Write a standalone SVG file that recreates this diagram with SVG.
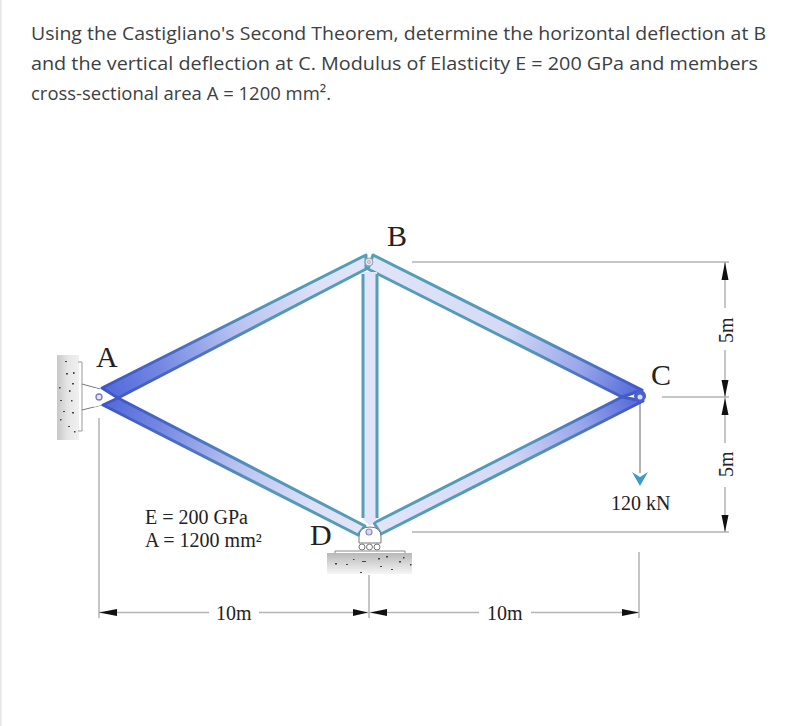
<svg xmlns="http://www.w3.org/2000/svg" width="794" height="726" viewBox="0 0 794 726">
<style>
.q{font-family:"Open Sans","Liberation Sans",sans-serif;font-size:19px;fill:#3c4043}
.t{font-family:"Liberation Serif",serif;fill:#222}
.l{font-size:30px}
.d{font-size:20px}
.dim{stroke:#b4b4b4;stroke-width:1.5;fill:none}
.sp{fill:#444}
.m{stroke-width:3;stroke-linejoin:round}
</style>
<defs>
<linearGradient id="ab" gradientUnits="userSpaceOnUse" x1="100" y1="395" x2="370" y2="260"><stop offset="0" stop-color="#4f66d8"/><stop offset=".22" stop-color="#7488e2"/><stop offset=".5" stop-color="#b8c2f0"/><stop offset=".8" stop-color="#dde1f8"/><stop offset="1" stop-color="#e2e5f9"/></linearGradient>
<linearGradient id="abE" gradientUnits="userSpaceOnUse" x1="100" y1="395" x2="370" y2="260"><stop offset="0" stop-color="#3f55c8"/><stop offset=".3" stop-color="#4a6cc4"/><stop offset=".6" stop-color="#5596b8"/><stop offset="1" stop-color="#549fb8"/></linearGradient>
<linearGradient id="ad" gradientUnits="userSpaceOnUse" x1="100" y1="397" x2="370" y2="530"><stop offset="0" stop-color="#4f66d8"/><stop offset=".22" stop-color="#7488e2"/><stop offset=".5" stop-color="#b8c2f0"/><stop offset=".8" stop-color="#dde1f8"/><stop offset="1" stop-color="#e2e5f9"/></linearGradient>
<linearGradient id="adE" gradientUnits="userSpaceOnUse" x1="100" y1="397" x2="370" y2="530"><stop offset="0" stop-color="#3f55c8"/><stop offset=".3" stop-color="#4a6cc4"/><stop offset=".6" stop-color="#5596b8"/><stop offset="1" stop-color="#549fb8"/></linearGradient>
<linearGradient id="bc" gradientUnits="userSpaceOnUse" x1="370" y1="260" x2="641" y2="396"><stop offset="0" stop-color="#e2e5f9"/><stop offset=".5" stop-color="#d4daf6"/><stop offset=".78" stop-color="#98a6ea"/><stop offset="1" stop-color="#4f66d8"/></linearGradient>
<linearGradient id="bcE" gradientUnits="userSpaceOnUse" x1="370" y1="260" x2="641" y2="396"><stop offset="0" stop-color="#549fb8"/><stop offset=".6" stop-color="#5596b8"/><stop offset=".85" stop-color="#4a6cc4"/><stop offset="1" stop-color="#3f55c8"/></linearGradient>
<linearGradient id="dc" gradientUnits="userSpaceOnUse" x1="370" y1="530" x2="641" y2="396"><stop offset="0" stop-color="#e2e5f9"/><stop offset=".5" stop-color="#d4daf6"/><stop offset=".78" stop-color="#98a6ea"/><stop offset="1" stop-color="#4f66d8"/></linearGradient>
<linearGradient id="dcE" gradientUnits="userSpaceOnUse" x1="370" y1="530" x2="641" y2="396"><stop offset="0" stop-color="#549fb8"/><stop offset=".6" stop-color="#5596b8"/><stop offset=".85" stop-color="#4a6cc4"/><stop offset="1" stop-color="#3f55c8"/></linearGradient>
<linearGradient id="wall" x1="0" y1="0" x2="1" y2="0"><stop offset="0" stop-color="#c8c8c8"/><stop offset=".5" stop-color="#e6e6e6"/><stop offset="1" stop-color="#f0f0f0"/></linearGradient>
<linearGradient id="gnd" x1="0" y1="0" x2="0" y2="1"><stop offset="0" stop-color="#b8b8b8"/><stop offset="1" stop-color="#f6f6f6"/></linearGradient>
</defs>
<rect width="794" height="726" fill="#fff"/>
<rect x="0" y="0" width="1.500" height="726" fill="#e6e6e6"/>
<g id="question">
<text class="q" x="31" y="40" textLength="735" lengthAdjust="spacingAndGlyphs">Using the Castigliano's Second Theorem, determine the horizontal deflection at B</text>
<text class="q" x="31" y="70" textLength="727" lengthAdjust="spacingAndGlyphs">and the vertical deflection at C. Modulus of Elasticity E = 200 GPa and members</text>
<text class="q" x="31" y="100" textLength="300" lengthAdjust="spacingAndGlyphs">cross-sectional area A = 1200 mm².</text>
</g>
<g id="connectors">
<g id="dimensions">
<path class="dim" d="M412 262H729M662 397H729M412 532H729M99 418V618M369 575V618M639 552V618"/>
<path class="dim" d="M725 262V308M725 350V443M725 487V532"/>
<path class="dim" d="M99 612.500H209M259 612.500H369M369 612.500H479M531 612.500H639"/>
<path fill="#111" d="M725 262l-3.500 18h7zM725 397l-3.500-17h7zM725 398l-3.500 17h7zM725 532l-3.500-17h7z"/>
<path fill="#111" d="M99 612.500l18-3.500v7zM368 612.500l-15-3.500v7zM370 612.500l17-3.500v7zM639 612.500l-17-3.500v7z"/>
</g>
<g id="load">
<path d="M640 400V473" stroke="#666" stroke-width="1" fill="none"/>
<path d="M632 472L640 477L648 472L640 486Z" fill="#3f9ac8"/>
</g>
</g>
<g id="wall-A">
<rect x="57" y="355" width="22" height="85" fill="url(#wall)"/>
<g class="sp"><rect x="65" y="361" width="2" height="1"/><rect x="66" y="373" width="2" height="1.500"/><rect x="73" y="372" width="1.500" height="2"/><rect x="72" y="383" width="2" height="1.500"/><rect x="59" y="387" width="1.500" height="1.500"/><rect x="69" y="390" width="1.500" height="2"/><rect x="60" y="400" width="2" height="1"/><rect x="71" y="400" width="1.500" height="1.500"/><rect x="63" y="411" width="2" height="1"/><rect x="72" y="412" width="2" height="1.500"/><rect x="60" y="419" width="1.500" height="1.500"/><rect x="68" y="426" width="2" height="1"/><rect x="74" y="431" width="1.500" height="1.500"/></g>
<path d="M78 362H82V431H78" fill="none" stroke="#999" stroke-width="1"/>
<path d="M82 384L100 389M82 410L102 405" fill="none" stroke="#777" stroke-width="1"/>
<path d="M94 388L102 390V405L94 407Q90 397 94 388Z" fill="#fff"/>
</g>
<g id="member-AB"><path class="m" d="M102 388L366 255L366 269L118 398Z" fill="url(#ab)" stroke="url(#abE)"/></g>
<g id="member-AD"><path class="m" d="M103 405L118 398L365 526L358 535Z" fill="url(#ad)" stroke="url(#adE)"/></g>
<g id="member-BC"><path class="m" d="M373 255L642 390L622 397L368 269Z" fill="url(#bc)" stroke="url(#bcE)"/></g>
<g id="member-CD"><path class="m" d="M622 397L643 401L381 534L374 523Z" fill="url(#dc)" stroke="url(#dcE)"/></g>
<g id="member-BD"><path d="M363 272H377V519L370 526L363 519Z" fill="#e2e5f9"/><path d="M363 274V518M377 274V518" stroke="#549fb8" stroke-width="3" fill="none"/></g>
<g id="node-A"><circle cx="99" cy="397" r="3" fill="#e8e8fa" stroke="#7878c8" stroke-width="1.300"/></g>
<g id="node-B"><circle cx="369" cy="262" r="4" fill="#e4e4ee" stroke="#9a9ab0" stroke-width="1"/><circle cx="369" cy="262" r="1.500" fill="none" stroke="#9a9ab0" stroke-width=".7"/></g>
<g id="node-C"><circle cx="640" cy="396" r="6" fill="#4a5ed0"/><circle cx="640" cy="397" r="2.500" fill="#cfe0f8"/></g>
<g id="node-D">
<path d="M359 543V537Q359 527 370 527Q381 527 381 537V543Z" fill="#fff" stroke="#777" stroke-width="1"/>
<circle cx="369" cy="532" r="3" fill="#d8d8f2" stroke="#8a8ac8" stroke-width="1.200"/>
<g fill="#fff" stroke="#777" stroke-width="1"><circle cx="362" cy="547" r="3"/><circle cx="369.500" cy="547" r="3"/><circle cx="377" cy="547" r="3"/></g>
<path d="M335 555V551H405V555" fill="none" stroke="#888" stroke-width="1"/>
<rect x="327" y="553" width="85" height="21" fill="url(#gnd)"/>
<g class="sp"><rect x="335" y="563" width="2" height="1.500"/><rect x="346" y="564" width="2" height="1"/><rect x="353" y="559" width="1.500" height="1"/><rect x="362" y="561" width="4" height="1"/><rect x="360" y="572" width="2" height="1"/><rect x="378" y="558" width="2" height="1.500"/><rect x="386" y="556" width="2" height="1.500"/><rect x="380" y="566" width="2" height="1"/><rect x="391" y="569" width="2" height="1"/><rect x="399" y="561" width="2" height="1.500"/><rect x="403" y="557" width="1.500" height="1.500"/><rect x="410" y="564" width="1.500" height="1.500"/></g>
</g>
<g id="labels">
<text class="t l" x="96" y="367">A</text>
<text class="t l" x="387" y="246">B</text>
<text class="t l" x="651" y="385">C</text>
<text class="t l" x="310" y="545">D</text>
<text class="t d" x="145" y="524">E = 200 GPa</text>
<text class="t d" x="145" y="547">A = 1200 mm²</text>
<text class="t d" x="611" y="510">120 kN</text>
<text class="t d" x="216" y="620">10m</text>
<text class="t d" x="487" y="620">10m</text>
<text class="t d" transform="translate(733 343) rotate(-90)">5m</text>
<text class="t d" transform="translate(733 477) rotate(-90)">5m</text>
</g>
</svg>
